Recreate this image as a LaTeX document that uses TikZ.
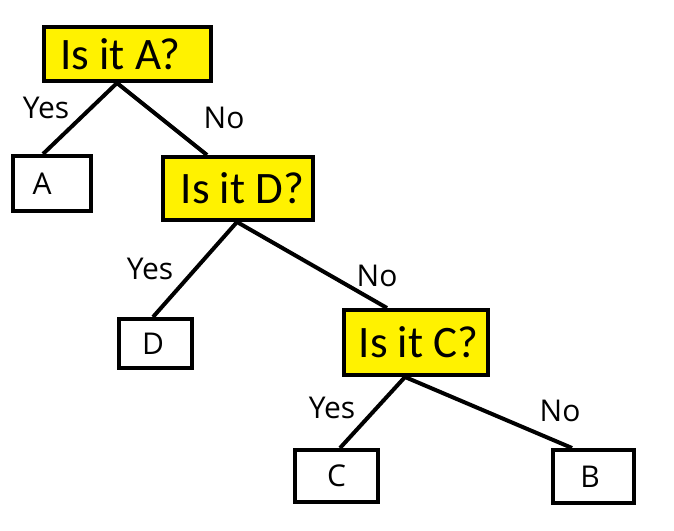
\documentclass[tikz,border=0pt]{standalone}
\usepackage{fontspec}
\setmainfont{Carlito}
\newfontfamily\labelfont{Open Sans}
\definecolor{qyellow}{RGB}{255,242,0}
\begin{document}
\begin{tikzpicture}[x=1pt,y=-1pt,
  question/.style={draw,line width=4pt,fill=qyellow,inner sep=0pt,font=\fontsize{45}{50}\selectfont},
  answer/.style={draw,line width=4pt,fill=white,inner sep=0pt,font=\labelfont\fontsize{30}{34}\selectfont},
  branch/.style={font=\labelfont\fontsize{30}{34}\selectfont,inner sep=0pt},
  edge/.style={line width=4pt}]
\useasboundingbox (0,0) rectangle (674,530);

\node[question,minimum width=167pt,minimum height=54pt] (isA) at (127.5,54) {\hspace*{-14pt}Is it A?};
\node[answer,minimum width=78pt,minimum height=55pt] (ansA) at (52,183.5) {\hspace*{-20pt}A};
\node[question,minimum width=150pt,minimum height=63pt] (isD) at (238,188.5) {\hspace*{9pt}Is it D?};
\node[answer,minimum width=73pt,minimum height=49pt] (ansD) at (155.5,343.5) {\hspace*{-5pt}D};
\node[question,minimum width=144pt,minimum height=65pt] (isC) at (416,342.5) {\hspace*{5pt}Is it C?};
\node[answer,minimum width=83pt,minimum height=52pt] (ansC) at (336.5,476) {C};
\node[answer,minimum width=81pt,minimum height=53pt] (ansB) at (593.5,476.5) {\hspace*{-7pt}B};

\draw[edge] ([xshift=-10.5pt]isA.south) -- ([xshift=-9pt]ansA.north);
\draw[edge] ([xshift=-10.5pt]isA.south) -- ([xshift=-31pt]isD.north);
\draw[edge] ([xshift=-1pt]isD.south) -- ([xshift=-2.5pt]ansD.north);
\draw[edge] ([xshift=-1pt]isD.south) -- ([xshift=-29pt]isC.north);
\draw[edge] ([xshift=-11pt]isC.south) -- ([xshift=3.5pt]ansC.north);
\draw[edge] ([xshift=-11pt]isC.south) -- ([xshift=-21.5pt]ansB.north);

\node[branch] (yesA) at (46,107.5) {Yes};
\node[branch] (noA) at (224,117.5) {No};
\node[branch] (yesD) at (150,269) {Yes};
\node[branch] (noD) at (377,275.5) {No};
\node[branch] (yesC) at (332,408) {Yes};
\node[branch] (noC) at (560,411) {No};
\end{tikzpicture}
\end{document}
